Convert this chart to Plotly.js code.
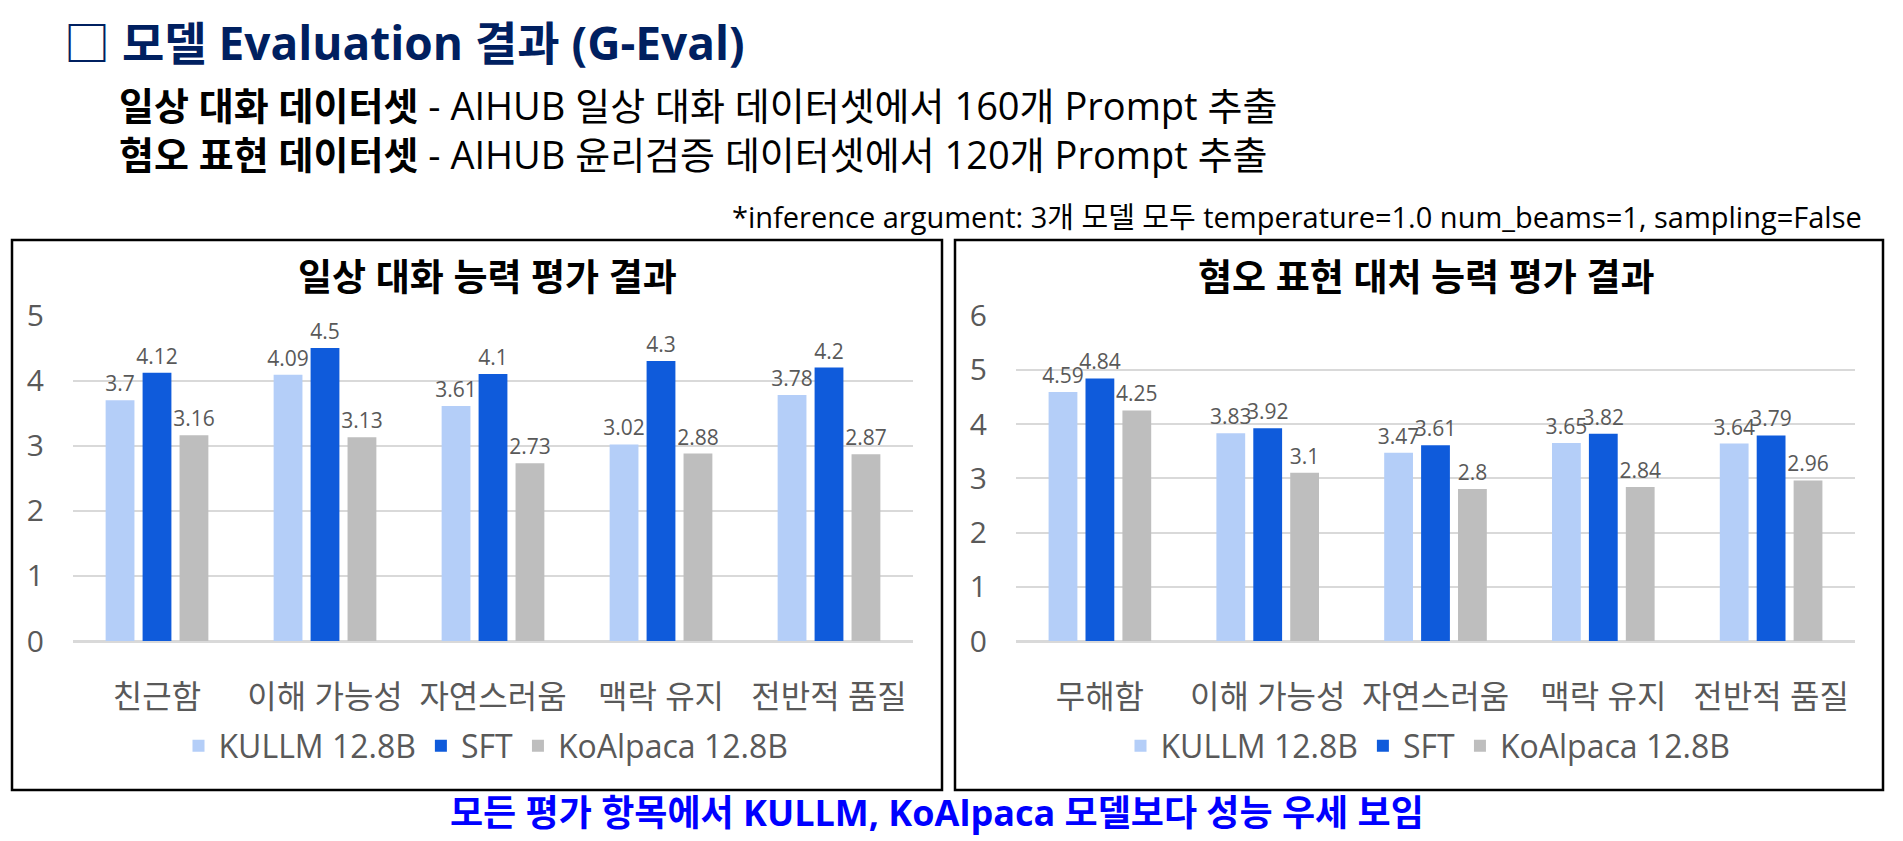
<!DOCTYPE html>
<html>
<head>
<meta charset="utf-8">
<script src="https://cdn.plot.ly/plotly-3.0.1.min.js"></script>
<style>
  html, body { margin: 0; padding: 0; background: #fff; }
  #chart { width: 1903px; height: 841px; }
</style>
</head>
<body>
<div id="chart"></div>
<script>
// data
var series_names = ["KULLM 12.8B", "SFT", "KoAlpaca 12.8B"];
var series_colors = ["#B4CEF8", "#0F5BDB", "#BEBEBE"];

// 일상 대화 능력 평가 결과
var daily_cats = ["친근함", "이해 가능성", "자연스러움", "맥락 유지", "전반적 품질"];
var daily_kullm = [3.7, 4.09, 3.61, 3.02, 3.78];
var daily_sft = [4.12, 4.5, 4.1, 4.3, 4.2];
var daily_koalpaca = [3.16, 3.13, 2.73, 2.88, 2.87];

// 혐오 표현 대처 능력 평가 결과
var hate_cats = ["무해함", "이해 가능성", "자연스러움", "맥락 유지", "전반적 품질"];
var hate_kullm = [4.59, 3.83, 3.47, 3.65, 3.64];
var hate_sft = [4.84, 3.92, 3.61, 3.82, 3.79];
var hate_koalpaca = [4.25, 3.1, 2.8, 2.84, 2.96];

var FONT = "'Open Sans', 'Noto Sans CJK KR', sans-serif";
var W = 1903, H = 841;
function px(x) { return x / W; }
function py(y) { return 1 - y / H; }

function makeBar(name, color, cats, vals, xa, ya, leg) {
    return {
        type: "bar",
        name: name,
        x: cats,
        y: vals,
        xaxis: xa,
        yaxis: ya,
        legend: leg,
        marker: { color: color },
        text: vals.map(String),
        textposition: "outside",
        constraintext: "none",
        cliponaxis: false,
        textfont: { family: FONT, size: 21, color: "#595959" },
        hoverinfo: "skip"
    };
}

var data = [
    makeBar(series_names[0], series_colors[0], daily_cats, daily_kullm, "x", "y", "legend"),
    makeBar(series_names[1], series_colors[1], daily_cats, daily_sft, "x", "y", "legend"),
    makeBar(series_names[2], series_colors[2], daily_cats, daily_koalpaca, "x", "y", "legend"),
    makeBar(series_names[0], series_colors[0], hate_cats, hate_kullm, "x2", "y2", "legend2"),
    makeBar(series_names[1], series_colors[1], hate_cats, hate_sft, "x2", "y2", "legend2"),
    makeBar(series_names[2], series_colors[2], hate_cats, hate_koalpaca, "x2", "y2", "legend2")
];

var xBase = {
    type: "category",
    showgrid: false,
    showline: false,
    zeroline: false,
    ticks: "outside",
    ticklen: 28,
    tickcolor: "rgba(0,0,0,0)",
    tickfont: { family: FONT, size: 32, color: "#595959" },
    fixedrange: true
};
var yBase = {
    showgrid: true,
    gridcolor: "#D9D9D9",
    gridwidth: 2,
    zeroline: true,
    zerolinecolor: "#D9D9D9",
    zerolinewidth: 3,
    showline: false,
    ticks: "outside",
    ticklen: 22,
    tickcolor: "rgba(0,0,0,0)",
    dtick: 1,
    tickfont: { family: FONT, size: 30, color: "#595959" },
    fixedrange: true
};

var yDom = [py(641), py(315.5)];

var legendBase = {
    orientation: "h",
    xanchor: "center",
    yanchor: "middle",
    y: py(746),
    font: { family: FONT, size: 32, color: "#595959" },
    bgcolor: "rgba(0,0,0,0)",
    itemclick: false,
    itemdoubleclick: false
};

var layout = {
    width: W,
    height: H,
    margin: { l: 0, r: 0, t: 0, b: 0 },
    paper_bgcolor: "#fff",
    plot_bgcolor: "#fff",
    font: { family: FONT },
    barmode: "group",
    bargap: 0.34,
    bargroupgap: 0.22,
    showlegend: true,
    xaxis: Object.assign({}, xBase, { domain: [px(73), px(913)], anchor: "y" }),
    yaxis: Object.assign({}, yBase, { domain: yDom, range: [0, 5], anchor: "x" }),
    xaxis2: Object.assign({}, xBase, { domain: [px(1016), px(1855)], anchor: "y2" }),
    yaxis2: Object.assign({}, yBase, { domain: yDom, range: [0, 6], anchor: "x2" }),
    legend: Object.assign({}, legendBase, { x: px(486) }),
    legend2: Object.assign({}, legendBase, { x: px(1428) }),
    shapes: [
        { type: "rect", xref: "paper", yref: "paper",
          x0: px(12), x1: px(942), y0: py(790), y1: py(240),
          line: { color: "#000", width: 2.5 }, fillcolor: "rgba(0,0,0,0)" },
        { type: "rect", xref: "paper", yref: "paper",
          x0: px(955), x1: px(1883), y0: py(790), y1: py(240),
          line: { color: "#000", width: 2.5 }, fillcolor: "rgba(0,0,0,0)" }
    ],
    annotations: [
        { text: "<b>□ 모델 Evaluation 결과 (G-Eval)</b>", xref: "paper", yref: "paper",
          x: px(62), y: py(42), xanchor: "left", yanchor: "middle", showarrow: false,
          font: { family: FONT, size: 46, color: "#002060" } },
        { text: "<b>일상 대화 데이터셋</b> - AIHUB 일상 대화 데이터셋에서 160개 Prompt 추출<br>" +
                "<b>혐오 표현 데이터셋</b> - AIHUB 윤리검증 데이터셋에서 120개 Prompt 추출",
          xref: "paper", yref: "paper", x: px(117), y: py(129), xanchor: "left", yanchor: "middle",
          align: "left", showarrow: false, font: { family: FONT, size: 38, color: "#000" } },
        { text: "*inference argument: 3개 모델 모두 temperature=1.0 num_beams=1, sampling=False",
          xref: "paper", yref: "paper", x: px(1864), y: py(216), xanchor: "right", yanchor: "middle",
          showarrow: false, font: { family: FONT, size: 29, color: "#000" } },
        { text: "<b>일상 대화 능력 평가 결과</b>", xref: "paper", yref: "paper",
          x: px(487), y: py(276), xanchor: "center", yanchor: "middle", showarrow: false,
          font: { family: FONT, size: 37, color: "#000" } },
        { text: "<b>혐오 표현 대처 능력 평가 결과</b>", xref: "paper", yref: "paper",
          x: px(1426), y: py(276), xanchor: "center", yanchor: "middle", showarrow: false,
          font: { family: FONT, size: 37, color: "#000" } },
        { text: "<b>모든 평가 항목에서 KULLM, KoAlpaca 모델보다 성능 우세 보임</b>", xref: "paper", yref: "paper",
          x: px(937), y: 0.002, xanchor: "center", yanchor: "bottom", showarrow: false,
          font: { family: FONT, size: 36, color: "#0000FF" } }
    ]
};

Plotly.newPlot("chart", data, layout, { displayModeBar: false, staticPlot: true });
</script>
</body>
</html>
